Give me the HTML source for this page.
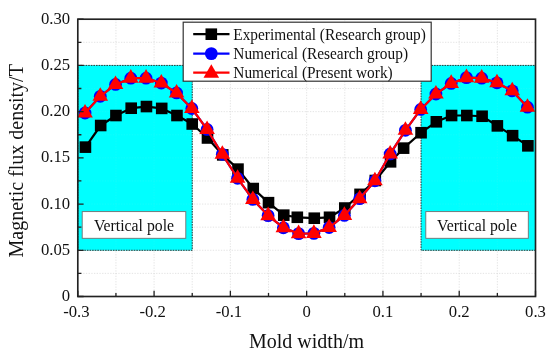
<!DOCTYPE html>
<html lang="en"><head><meta charset="utf-8"><title>Magnetic flux density</title>
<style>html,body{margin:0;padding:0;background:#fff}body{width:550px;height:354px;overflow:hidden}svg{display:block}svg text{font-family:"Liberation Serif","DejaVu Serif",serif;fill:#111}</style>
</head><body>
<svg width="550" height="354" viewBox="0 0 550 354">
<rect width="550" height="354" fill="#fff"/>
<rect x="77.80" y="65.42" width="114.42" height="184.87" fill="#00ffff"/>
<rect x="421.07" y="65.42" width="114.43" height="184.87" fill="#00ffff"/>
<path d="M77.80 273.39H535.50M77.80 250.28H535.50M77.80 227.17H535.50M77.80 204.07H535.50M77.80 180.96H535.50M77.80 157.85H535.50M77.80 134.74H535.50M77.80 111.63H535.50M77.80 88.52H535.50M77.80 65.42H535.50M77.80 42.31H535.50M115.94 19.20V296.50M154.08 19.20V296.50M192.23 19.20V296.50M230.37 19.20V296.50M268.51 19.20V296.50M306.65 19.20V296.50M344.79 19.20V296.50M382.93 19.20V296.50M421.07 19.20V296.50M459.22 19.20V296.50M497.36 19.20V296.50" stroke="#d4d4d4" stroke-opacity="0.7" stroke-width="0.9" stroke-dasharray="1.3 1.4" fill="none"/>
<rect x="77.80" y="65.42" width="114.42" height="184.87" fill="#00ffff" fill-opacity="0.88"/>
<rect x="421.07" y="65.42" width="114.43" height="184.87" fill="#00ffff" fill-opacity="0.88"/>
<rect x="77.80" y="65.42" width="114.42" height="184.87" fill="none" stroke="#222" stroke-width="0.9" stroke-dasharray="1.6 1"/>
<rect x="421.07" y="65.42" width="114.43" height="184.87" fill="none" stroke="#222" stroke-width="0.9" stroke-dasharray="1.6 1"/>
<rect x="82.20" y="211.6" width="103.60" height="26.7" fill="#fff" stroke="#707070" stroke-width="0.9"/>
<text x="134.00" y="230.7" font-size="16.2" text-anchor="middle" textLength="80" lengthAdjust="spacingAndGlyphs">Vertical pole</text>
<rect x="425.80" y="211.6" width="102.50" height="26.7" fill="#fff" stroke="#707070" stroke-width="0.9"/>
<text x="477.05" y="230.7" font-size="16.2" text-anchor="middle" textLength="80" lengthAdjust="spacingAndGlyphs">Vertical pole</text>
<polyline points="85.43,147.13 100.68,125.50 115.94,115.52 131.20,108.21 146.45,106.55 161.71,108.40 176.97,115.52 192.22,124.02 207.48,137.98 222.74,154.89 238.00,169.13 253.25,188.54 268.51,202.68 283.77,215.16 297.32,217.28 314.28,218.21 329.53,217.28 344.79,208.04 360.05,194.36 375.31,180.50 390.56,161.82 403.62,148.14 421.07,132.71 436.33,121.80 451.59,115.52 466.85,115.52 482.10,116.25 497.36,125.87 512.62,135.67 527.87,145.83" fill="none" stroke="#000" stroke-width="2.2" stroke-linejoin="round"/>
<rect x="79.63" y="141.33" width="11.6" height="11.6" fill="#000"/>
<rect x="94.88" y="119.70" width="11.6" height="11.6" fill="#000"/>
<rect x="110.14" y="109.72" width="11.6" height="11.6" fill="#000"/>
<rect x="125.40" y="102.41" width="11.6" height="11.6" fill="#000"/>
<rect x="140.65" y="100.75" width="11.6" height="11.6" fill="#000"/>
<rect x="155.91" y="102.60" width="11.6" height="11.6" fill="#000"/>
<rect x="171.17" y="109.72" width="11.6" height="11.6" fill="#000"/>
<rect x="186.42" y="118.22" width="11.6" height="11.6" fill="#000"/>
<rect x="201.68" y="132.18" width="11.6" height="11.6" fill="#000"/>
<rect x="216.94" y="149.09" width="11.6" height="11.6" fill="#000"/>
<rect x="232.19" y="163.33" width="11.6" height="11.6" fill="#000"/>
<rect x="247.45" y="182.74" width="11.6" height="11.6" fill="#000"/>
<rect x="262.71" y="196.88" width="11.6" height="11.6" fill="#000"/>
<rect x="277.97" y="209.36" width="11.6" height="11.6" fill="#000"/>
<rect x="291.52" y="211.48" width="11.6" height="11.6" fill="#000"/>
<rect x="308.48" y="212.41" width="11.6" height="11.6" fill="#000"/>
<rect x="323.73" y="211.48" width="11.6" height="11.6" fill="#000"/>
<rect x="338.99" y="202.24" width="11.6" height="11.6" fill="#000"/>
<rect x="354.25" y="188.56" width="11.6" height="11.6" fill="#000"/>
<rect x="369.50" y="174.70" width="11.6" height="11.6" fill="#000"/>
<rect x="384.76" y="156.02" width="11.6" height="11.6" fill="#000"/>
<rect x="397.82" y="142.34" width="11.6" height="11.6" fill="#000"/>
<rect x="415.27" y="126.91" width="11.6" height="11.6" fill="#000"/>
<rect x="430.53" y="116.00" width="11.6" height="11.6" fill="#000"/>
<rect x="445.79" y="109.72" width="11.6" height="11.6" fill="#000"/>
<rect x="461.05" y="109.72" width="11.6" height="11.6" fill="#000"/>
<rect x="476.30" y="110.45" width="11.6" height="11.6" fill="#000"/>
<rect x="491.56" y="120.07" width="11.6" height="11.6" fill="#000"/>
<rect x="506.81" y="129.87" width="11.6" height="11.6" fill="#000"/>
<rect x="522.07" y="140.03" width="11.6" height="11.6" fill="#000"/>
<polyline points="85.03,113.02 100.28,96.29 115.54,84.46 130.80,78.17 146.05,78.17 161.31,83.07 176.57,92.96 191.82,108.49 207.08,129.47 222.34,154.34 237.59,178.28 252.85,199.44 268.11,215.62 283.37,227.73 298.62,233.65 313.88,233.37 329.13,227.54 344.39,215.44 359.65,198.71 374.91,180.77 390.16,153.97 405.42,130.30 420.68,109.41 435.93,93.98 451.19,83.44 466.45,77.62 481.70,78.17 496.96,82.79 512.22,90.84 527.47,107.20" fill="none" stroke="#0000ff" stroke-width="2.2" stroke-linejoin="round"/>
<circle cx="85.03" cy="113.02" r="6.4" fill="#0000ff"/>
<circle cx="100.28" cy="96.29" r="6.4" fill="#0000ff"/>
<circle cx="115.54" cy="84.46" r="6.4" fill="#0000ff"/>
<circle cx="130.80" cy="78.17" r="6.4" fill="#0000ff"/>
<circle cx="146.05" cy="78.17" r="6.4" fill="#0000ff"/>
<circle cx="161.31" cy="83.07" r="6.4" fill="#0000ff"/>
<circle cx="176.57" cy="92.96" r="6.4" fill="#0000ff"/>
<circle cx="191.82" cy="108.49" r="6.4" fill="#0000ff"/>
<circle cx="207.08" cy="129.47" r="6.4" fill="#0000ff"/>
<circle cx="222.34" cy="154.34" r="6.4" fill="#0000ff"/>
<circle cx="237.59" cy="178.28" r="6.4" fill="#0000ff"/>
<circle cx="252.85" cy="199.44" r="6.4" fill="#0000ff"/>
<circle cx="268.11" cy="215.62" r="6.4" fill="#0000ff"/>
<circle cx="283.37" cy="227.73" r="6.4" fill="#0000ff"/>
<circle cx="298.62" cy="233.65" r="6.4" fill="#0000ff"/>
<circle cx="313.88" cy="233.37" r="6.4" fill="#0000ff"/>
<circle cx="329.13" cy="227.54" r="6.4" fill="#0000ff"/>
<circle cx="344.39" cy="215.44" r="6.4" fill="#0000ff"/>
<circle cx="359.65" cy="198.71" r="6.4" fill="#0000ff"/>
<circle cx="374.91" cy="180.77" r="6.4" fill="#0000ff"/>
<circle cx="390.16" cy="153.97" r="6.4" fill="#0000ff"/>
<circle cx="405.42" cy="130.30" r="6.4" fill="#0000ff"/>
<circle cx="420.68" cy="109.41" r="6.4" fill="#0000ff"/>
<circle cx="435.93" cy="93.98" r="6.4" fill="#0000ff"/>
<circle cx="451.19" cy="83.44" r="6.4" fill="#0000ff"/>
<circle cx="466.45" cy="77.62" r="6.4" fill="#0000ff"/>
<circle cx="481.70" cy="78.17" r="6.4" fill="#0000ff"/>
<circle cx="496.96" cy="82.79" r="6.4" fill="#0000ff"/>
<circle cx="512.22" cy="90.84" r="6.4" fill="#0000ff"/>
<circle cx="527.47" cy="107.20" r="6.4" fill="#0000ff"/>
<polyline points="85.03,113.02 100.28,96.29 115.54,84.46 130.80,78.17 146.05,78.17 161.31,83.07 176.57,92.96 191.82,108.49 207.08,129.47 222.34,154.34 237.59,178.28 252.85,199.44 268.11,215.62 283.37,227.73 298.62,233.65 313.88,233.37 329.13,227.54 344.39,215.44 359.65,198.71 374.91,180.77 390.16,153.97 405.42,130.30 420.68,109.41 435.93,93.98 451.19,83.44 466.45,77.62 481.70,78.17 496.96,82.79 512.22,90.84 527.47,107.20" fill="none" stroke="#ff0000" stroke-width="2.2" stroke-linejoin="round"/>
<polygon points="85.03,103.95 77.23,117.55 92.83,117.55" fill="#ff0000"/>
<polygon points="100.28,87.22 92.48,100.82 108.08,100.82" fill="#ff0000"/>
<polygon points="115.54,75.39 107.74,88.99 123.34,88.99" fill="#ff0000"/>
<polygon points="130.80,69.11 123.00,82.71 138.60,82.71" fill="#ff0000"/>
<polygon points="146.05,69.11 138.25,82.71 153.85,82.71" fill="#ff0000"/>
<polygon points="161.31,74.00 153.51,87.60 169.11,87.60" fill="#ff0000"/>
<polygon points="176.57,83.90 168.77,97.50 184.37,97.50" fill="#ff0000"/>
<polygon points="191.82,99.42 184.02,113.02 199.62,113.02" fill="#ff0000"/>
<polygon points="207.08,120.41 199.28,134.01 214.88,134.01" fill="#ff0000"/>
<polygon points="222.34,145.27 214.54,158.87 230.14,158.87" fill="#ff0000"/>
<polygon points="237.59,169.21 229.79,182.81 245.40,182.81" fill="#ff0000"/>
<polygon points="252.85,190.38 245.05,203.98 260.65,203.98" fill="#ff0000"/>
<polygon points="268.11,206.55 260.31,220.15 275.91,220.15" fill="#ff0000"/>
<polygon points="283.37,218.66 275.57,232.26 291.17,232.26" fill="#ff0000"/>
<polygon points="298.62,224.58 290.82,238.18 306.42,238.18" fill="#ff0000"/>
<polygon points="313.88,224.30 306.08,237.90 321.68,237.90" fill="#ff0000"/>
<polygon points="329.13,218.48 321.33,232.08 336.94,232.08" fill="#ff0000"/>
<polygon points="344.39,206.37 336.59,219.97 352.19,219.97" fill="#ff0000"/>
<polygon points="359.65,189.64 351.85,203.24 367.45,203.24" fill="#ff0000"/>
<polygon points="374.91,171.71 367.11,185.31 382.71,185.31" fill="#ff0000"/>
<polygon points="390.16,144.90 382.36,158.50 397.96,158.50" fill="#ff0000"/>
<polygon points="405.42,121.24 397.62,134.84 413.22,134.84" fill="#ff0000"/>
<polygon points="420.68,100.35 412.88,113.95 428.48,113.95" fill="#ff0000"/>
<polygon points="435.93,84.91 428.13,98.51 443.73,98.51" fill="#ff0000"/>
<polygon points="451.19,74.37 443.39,87.97 458.99,87.97" fill="#ff0000"/>
<polygon points="466.45,68.55 458.65,82.15 474.25,82.15" fill="#ff0000"/>
<polygon points="481.70,69.11 473.90,82.71 489.50,82.71" fill="#ff0000"/>
<polygon points="496.96,73.73 489.16,87.33 504.76,87.33" fill="#ff0000"/>
<polygon points="512.22,81.77 504.42,95.37 520.01,95.37" fill="#ff0000"/>
<polygon points="527.47,98.13 519.67,111.73 535.27,111.73" fill="#ff0000"/>
<rect x="77.80" y="19.20" width="457.70" height="277.30" fill="none" stroke="#222" stroke-width="1.65"/>
<path d="M77.80 296.50h5.8M77.80 273.39h3.6M77.80 250.28h5.8M77.80 227.17h3.6M77.80 204.07h5.8M77.80 180.96h3.6M77.80 157.85h5.8M77.80 134.74h3.6M77.80 111.63h5.8M77.80 88.52h3.6M77.80 65.42h5.8M77.80 42.31h3.6M77.80 19.20h5.8M77.80 296.50v-5.8M115.94 296.50v-3.6M154.08 296.50v-5.8M192.23 296.50v-3.6M230.37 296.50v-5.8M268.51 296.50v-3.6M306.65 296.50v-5.8M344.79 296.50v-3.6M382.93 296.50v-5.8M421.07 296.50v-3.6M459.22 296.50v-5.8M497.36 296.50v-3.6M535.50 296.50v-5.8" stroke="#222" stroke-width="1.3" fill="none"/>
<text x="70.2" y="301.00" font-size="16.7" text-anchor="end">0</text>
<text x="70.2" y="254.78" font-size="16.7" text-anchor="end">0.05</text>
<text x="70.2" y="208.57" font-size="16.7" text-anchor="end">0.10</text>
<text x="70.2" y="162.35" font-size="16.7" text-anchor="end">0.15</text>
<text x="70.2" y="116.13" font-size="16.7" text-anchor="end">0.20</text>
<text x="70.2" y="69.92" font-size="16.7" text-anchor="end">0.25</text>
<text x="70.2" y="23.70" font-size="16.7" text-anchor="end">0.30</text>
<text x="76.40" y="316.9" font-size="16.7" text-anchor="middle">-0.3</text>
<text x="152.68" y="316.9" font-size="16.7" text-anchor="middle">-0.2</text>
<text x="228.97" y="316.9" font-size="16.7" text-anchor="middle">-0.1</text>
<text x="306.65" y="316.9" font-size="16.7" text-anchor="middle">0</text>
<text x="382.93" y="316.9" font-size="16.7" text-anchor="middle">0.1</text>
<text x="459.22" y="316.9" font-size="16.7" text-anchor="middle">0.2</text>
<text x="535.50" y="316.9" font-size="16.7" text-anchor="middle">0.3</text>
<text x="306.5" y="348" font-size="20" text-anchor="middle">Mold width/m</text>
<text transform="translate(22.6,160.8) rotate(-90)" font-size="20" text-anchor="middle">Magnetic flux density/T</text>
<rect x="183.2" y="22.2" width="248" height="59" fill="#fff" stroke="#333" stroke-width="1.2"/>
<path d="M193.2 34.2H229.5" stroke="#000" stroke-width="2.2"/>
<text x="233.3" y="39.6" font-size="16" textLength="192.6" lengthAdjust="spacingAndGlyphs">Experimental (Research group)</text>
<path d="M193.2 53.6H229.5" stroke="#0000ff" stroke-width="2.2"/>
<text x="233.3" y="58.7" font-size="16" textLength="174.7" lengthAdjust="spacingAndGlyphs">Numerical (Research group)</text>
<path d="M193.2 72.6H229.5" stroke="#ff0000" stroke-width="2.2"/>
<text x="233.3" y="77.6" font-size="16" textLength="159.4" lengthAdjust="spacingAndGlyphs">Numerical (Present work)</text>
<rect x="205.50" y="28.40" width="11.6" height="11.6" fill="#000"/>
<circle cx="211.30" cy="53.60" r="6.4" fill="#0000ff"/>
<polygon points="211.30,64.13 203.50,77.73 219.10,77.73" fill="#ff0000"/>
</svg>
</body></html>
